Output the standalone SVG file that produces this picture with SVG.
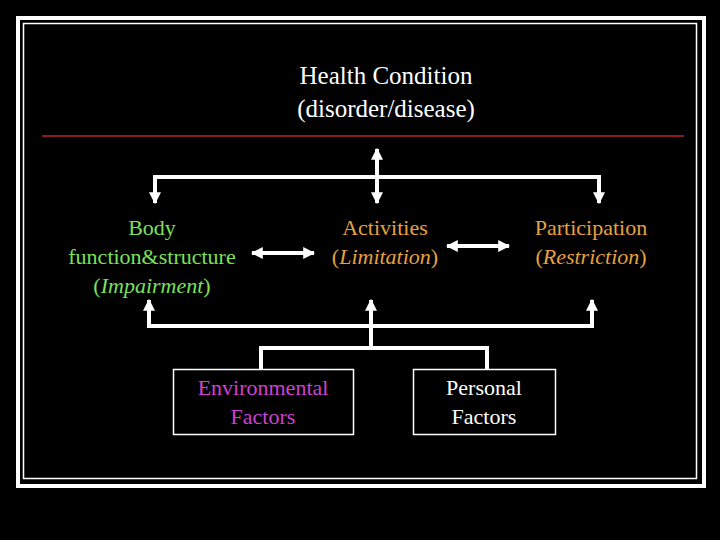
<svg xmlns="http://www.w3.org/2000/svg" width="720" height="540" viewBox="0 0 720 540">
<defs>
<style>
text{font-family:'Liberation Serif','Times New Roman','DejaVu Serif',serif;font-size:22px;text-anchor:middle}
.w{fill:#fff}.g{fill:#7ce05a}.o{fill:#e8a040}.m{fill:#d040d0}
.i{font-style:italic}.n{font-style:normal}
.c{stroke:#fff;stroke-width:4;fill:none}
</style>
<marker id="a" viewBox="0 0 10 10" refX="9" refY="5" markerWidth="3" markerHeight="3" orient="auto-start-reverse"><path d="M0,0L10,5L0,10z" fill="#fff"/></marker>
</defs>
<rect width="720" height="540" fill="#000"/>
<rect x="18" y="18" width="686" height="468" fill="none" stroke="#fff" stroke-width="4"/>
<rect x="23.5" y="23.5" width="673" height="455" fill="none" stroke="#fff" stroke-width="1.5"/>
<line x1="42" y1="136" x2="684" y2="136" stroke="#8b1a1a" stroke-width="2"/>
<g id="connectors">
<path class="c" d="M155,203V177H599V203" marker-start="url(#a)" marker-end="url(#a)"/>
<path class="c" d="M377,149V203" marker-start="url(#a)" marker-end="url(#a)"/>
<path class="c" d="M252,253H314" marker-start="url(#a)" marker-end="url(#a)"/>
<path class="c" d="M447,246H509" marker-start="url(#a)" marker-end="url(#a)"/>
<path class="c" d="M149,300V326H592V300" marker-start="url(#a)" marker-end="url(#a)"/>
<path class="c" d="M371,348V300" marker-end="url(#a)"/>
<path class="c" d="M261,370V348H487V370"/>
</g>
<g id="health" font-family="Liberation Serif, serif"><text class="w" x="386" y="84" style="font-size:25px">Health Condition</text><text class="w" x="386" y="117" style="font-size:25px">(disorder/disease)</text></g>
<g id="body" font-family="Liberation Serif, serif"><text class="g" x="152" y="235">Body</text><text class="g" x="152" y="264">function&amp;structure</text><text class="g i" x="152" y="293"><tspan class="n">(</tspan>Impairment<tspan class="n">)</tspan></text></g>
<g id="activities" font-family="Liberation Serif, serif"><text class="o" x="385" y="235">Activities</text><text class="o i" x="385" y="264"><tspan class="n">(</tspan>Limitation<tspan class="n">)</tspan></text></g>
<g id="participation" font-family="Liberation Serif, serif"><text class="o" x="591" y="235">Participation</text><text class="o i" x="591" y="264"><tspan class="n">(</tspan>Restriction<tspan class="n">)</tspan></text></g>
<g id="env" font-family="Liberation Serif, serif"><rect x="173.5" y="369.5" width="180" height="65" fill="#000" stroke="#fff" stroke-width="1.5"/><text class="m" x="263" y="395">Environmental</text><text class="m" x="263" y="424">Factors</text></g>
<g id="personal" font-family="Liberation Serif, serif"><rect x="413.5" y="369.5" width="142" height="65" fill="#000" stroke="#fff" stroke-width="1.5"/><text class="w" x="484" y="395">Personal</text><text class="w" x="484" y="424">Factors</text></g>
</svg>
